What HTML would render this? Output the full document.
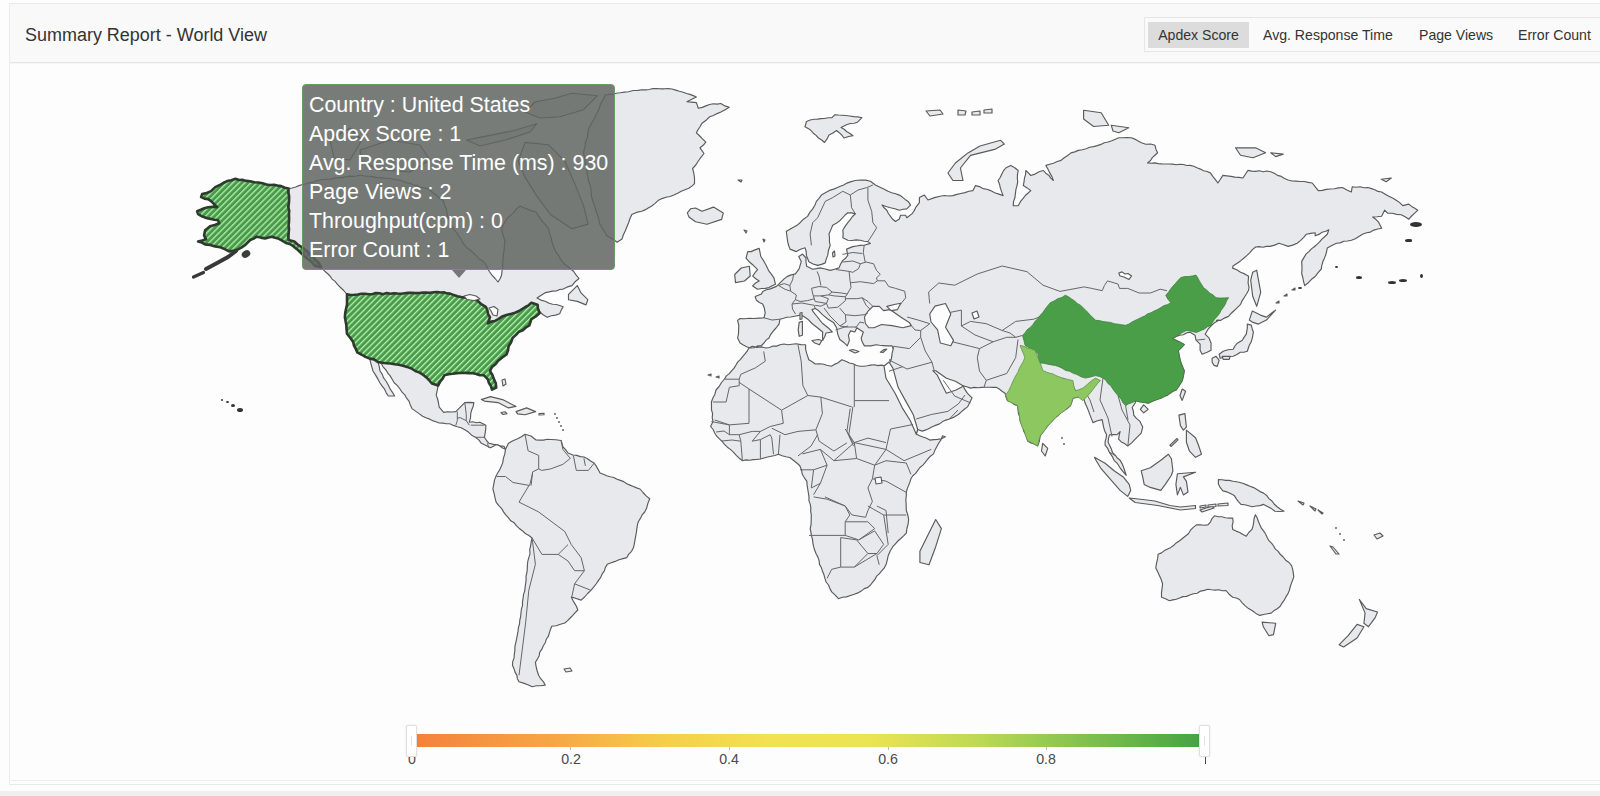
<!DOCTYPE html>
<html><head><meta charset="utf-8"><style>
html,body{margin:0;padding:0;width:1600px;height:796px;overflow:hidden;background:#fdfdfd;font-family:"Liberation Sans",sans-serif;}
#topline{position:absolute;left:9px;top:3px;width:1591px;height:1px;background:#e9e9e9;}
#panel{position:absolute;left:9px;top:4px;width:1591px;height:781px;border-left:1px solid #ececec;box-sizing:border-box;}
#header{position:absolute;left:10px;top:4px;width:1590px;height:58px;background:#f9f9f9;border-bottom:1px solid #e6e6e6;box-shadow:0 1px 1px rgba(0,0,0,0.03);}
#title{position:absolute;left:25px;top:24px;font-size:17.98px;color:#333;white-space:nowrap;line-height:22px;}
#tabs{position:absolute;left:1144px;top:17px;width:470px;height:35px;border:1px solid #e6e6e6;background:#fafafa;box-sizing:border-box;}
.tab{position:absolute;top:22px;height:26px;font-size:14.1px;color:#333;line-height:27px;white-space:nowrap;}
#t1{left:1148px;width:101px;background:#dcdcdc;text-align:center;}
#map{position:absolute;left:0;top:0;}
.ld{fill:#e8e9ed;stroke:#5a5a5a;stroke-width:1.15;stroke-linejoin:round;}
.wt{fill:#fdfdfd;stroke:#5a5a5a;stroke-width:1.15;stroke-linejoin:round;}
.bd{fill:none;stroke:#666;stroke-width:1.0;stroke-linejoin:round;}
.cn{fill:#4a9e48;stroke:#3f7f3f;stroke-width:0.8;}
.in{fill:#8cc75f;stroke:#5f8f4f;stroke-width:0.8;}
.us{fill:url(#hatch);stroke:#2f3a2f;stroke-width:2.6;stroke-linejoin:round;}
#tip{position:absolute;left:302px;top:84px;width:313px;height:186px;background:rgba(96,101,96,0.85);border:1.5px solid #6a9a68;border-radius:4px;box-sizing:border-box;}
#tiparrow{position:absolute;left:452px;top:270px;width:0;height:0;border-left:7px solid transparent;border-right:7px solid transparent;border-top:8px solid rgba(96,101,96,0.85);}
#tiptext{position:absolute;left:309px;top:91px;font-size:21.4px;line-height:28.9px;color:#fff;white-space:nowrap;}
#bar{position:absolute;left:416px;top:734px;width:783px;height:13px;background:linear-gradient(to right,#f5813c 0%,#f6a845 18%,#f5cf4a 32%,#f3e150 45%,#ebe452 58%,#bcd954 72%,#7ec04f 86%,#45a344 100%);}
.handle{position:absolute;top:724.5px;width:11px;height:32.5px;background:#fff;border:1px solid #e0e0e0;border-radius:2px;box-sizing:border-box;box-shadow:0 0 2px rgba(0,0,0,0.12);z-index:2;}
.handle:after{content:'';position:absolute;left:4px;top:10px;width:1px;height:10px;background:#e4e4e4;}
.lbl{position:absolute;top:750.5px;font-size:14.2px;color:#4a4a4a;width:40px;text-align:center;line-height:16px;}
.tick{position:absolute;top:747px;width:1px;height:3px;background:#bbb;}
#bline1{position:absolute;left:11px;top:780px;width:1589px;height:1px;background:#ececec;}
#bline2{position:absolute;left:10px;top:784px;width:1590px;height:1px;background:#e8e8e8;}
#bband{position:absolute;left:0;top:791px;width:1600px;height:5px;background:#efefef;}
</style></head><body>
<div id="topline"></div>
<div id="panel"></div>
<div id="header"></div>
<div id="title">Summary Report - World View</div>
<div id="tabs"></div>
<div class="tab" id="t1">Apdex Score</div>
<div class="tab" style="left:1263px">Avg. Response Time</div>
<div class="tab" style="left:1419px">Page Views</div>
<div class="tab" style="left:1518px">Error Count</div>
<svg id="map" width="1600" height="796" viewBox="0 0 1600 796">
<defs><pattern id="hatch" patternUnits="userSpaceOnUse" width="4.25" height="6" patternTransform="rotate(45)"><rect width="4.25" height="6" fill="#4a9a4c"/><rect x="0" y="0" width="1.3" height="6" fill="#b2f0aa"/></pattern></defs>
<polygon class="ld" points="288.6,188.6 292.2,188.0 295.7,187.0 299.0,185.6 302.5,184.5 306.0,183.8 309.5,182.8 313.1,182.2 316.5,180.7 320.0,180.0 323.6,179.5 327.3,179.2 331.0,179.1 334.5,178.2 338.2,177.5 341.9,177.6 345.5,176.9 349.1,176.1 352.8,176.4 356.4,176.0 360.0,175.0 363.6,175.8 367.2,176.3 370.9,176.2 374.5,177.1 378.1,177.7 381.8,177.9 385.5,178.2 389.1,178.2 392.7,179.0 396.3,179.7 400.0,180.0 403.2,181.5 406.5,182.7 410.0,183.3 413.2,184.8 416.7,185.3 419.9,187.0 423.3,187.8 426.8,188.4 430.0,190.0 433.2,192.9 436.8,195.3 439.8,198.4 443.4,200.8 444.4,204.7 446.3,208.4 446.9,212.4 447.7,216.4 449.5,220.1 450.4,224.1 452.6,226.9 454.1,230.2 456.8,232.7 458.5,235.8 460.8,238.6 462.2,241.9 464.4,244.8 466.7,247.5 469.4,249.8 472.3,251.8 474.8,254.3 477.4,256.8 479.7,259.5 483.0,261.1 485.4,263.8 487.3,267.7 489.3,271.5 492.0,275.1 495.1,278.5 498.0,282.0 500.1,278.7 501.6,275.0 502.0,271.1 502.8,267.3 502.7,263.4 503.1,259.6 503.3,255.7 503.7,252.2 504.3,248.7 504.4,245.1 505.0,241.6 503.9,237.5 502.5,233.5 501.6,229.3 503.1,225.6 504.8,222.1 506.9,218.7 509.6,216.2 512.3,213.7 514.7,211.1 517.1,208.2 520.0,206.0 523.9,207.8 527.9,209.4 531.8,210.9 536.0,212.0 538.1,215.4 540.4,218.7 542.8,221.9 545.6,224.8 548.0,228.0 549.2,231.4 549.9,234.9 551.4,238.2 551.9,241.8 553.0,245.3 554.4,248.6 556.2,252.4 558.7,255.7 560.6,259.4 563.2,262.7 566.6,265.7 570.2,268.5 573.7,271.5 576.2,275.1 579.0,278.5 575.1,281.7 572.0,285.6 567.4,286.9 563.2,289.1 559.6,289.5 556.2,291.0 552.6,291.1 549.1,291.9 545.6,292.6 541.2,295.2 537.0,298.0 540.9,300.1 545.2,301.2 549.1,303.2 552.6,304.3 556.3,304.5 559.7,305.5 563.2,306.7 561.2,310.1 559.7,313.7 555.6,315.1 551.3,315.8 547.3,317.3 543.4,315.0 540.0,312.0 538.4,308.5 537.6,304.7 538.4,308.9 539.7,313.0 535.8,316.5 531.4,319.2 529.3,325.5 525.8,327.5 522.2,329.2 519.0,331.7 515.8,334.8 512.7,337.9 510.5,342.0 508.6,346.2 508.1,350.5 506.5,354.5 502.3,357.5 498.2,360.7 495.0,363.7 492.0,366.9 490.0,371.0 491.9,375.2 494.0,379.4 495.2,383.5 496.2,387.6 492.0,389.7 490.5,386.3 489.8,382.6 487.9,379.4 483.7,375.2 480.0,375.2 476.4,374.7 472.9,373.1 469.2,373.1 465.1,373.4 460.9,373.5 456.8,373.1 452.7,374.1 448.5,374.2 444.4,375.2 441.9,378.4 440.6,382.4 438.1,385.6 437.2,390.4 436.2,395.1 437.6,399.0 438.5,403.0 439.2,407.1 443.7,412.4 447.7,411.8 451.8,412.0 455.8,411.6 460.3,407.1 464.8,402.6 469.4,402.4 473.9,402.6 473.2,406.2 471.8,409.7 470.8,413.2 470.5,417.8 469.3,422.2 472.8,421.8 476.4,422.7 479.9,422.2 485.9,425.2 485.7,429.3 485.1,433.3 484.4,437.3 486.5,440.5 489.0,443.3 493.4,444.4 498.0,444.8 501.5,447.4 505.5,449.3 504.0,446.3 500.2,445.9 496.5,444.8 490.4,447.8 486.0,445.4 481.4,443.3 478.8,439.9 475.4,437.3 471.6,435.2 468.4,432.1 464.8,429.7 461.2,427.8 457.3,426.7 453.4,425.4 449.7,423.7 446.2,423.7 442.7,423.1 439.2,423.0 435.9,421.7 432.4,420.6 429.2,418.9 425.9,417.7 422.6,416.2 419.1,413.6 415.5,411.1 412.0,408.6 410.3,404.9 409.0,401.1 406.6,398.2 404.8,394.8 402.0,392.2 400.0,389.0 397.4,385.6 394.2,382.7 392.0,379.0 390.2,375.9 387.8,373.1 386.0,370.0 383.1,366.8 381.0,363.0 378.0,362.0 379.2,366.4 380.0,371.0 382.2,374.2 383.6,377.9 386.0,381.0 388.4,385.3 390.5,389.7 392.7,392.7 394.6,396.0 388.4,396.0 386.2,392.8 384.6,389.2 382.2,386.2 380.0,383.0 377.8,378.9 375.5,374.9 373.0,371.0 371.8,366.9 370.7,362.8 369.7,358.6 365.6,356.4 361.2,355.0 357.3,352.4 355.6,349.1 354.4,345.5 353.2,342.0 349.9,338.1 347.0,333.8 346.6,329.6 345.8,325.5 345.8,321.3 344.9,317.2 345.5,313.1 345.9,308.9 346.4,304.7 347.0,300.6 347.0,294.4 343.7,290.5 340.0,287.0 337.4,284.3 335.1,281.4 332.1,279.1 330.0,276.0 327.5,273.5 324.8,271.2 322.2,268.8 320.0,266.0 317.0,264.0 314.0,262.0 311.0,258.5 308.0,255.0 304.4,251.5 300.8,248.0 297.7,244.6 294.3,241.6 288.6,240.0 289.0,236.3 288.6,232.7 288.4,229.0 288.6,225.3 288.9,221.6 289.0,218.0 288.9,214.3 288.3,210.6 289.1,207.0 288.7,203.3 288.1,199.6 288.8,195.9 289.1,192.3"/>
<polygon class="ld" points="605.0,95.0 603.9,98.6 601.7,101.6 600.2,105.1 599.2,108.7 597.5,112.0 595.6,115.7 593.8,119.5 591.7,123.1 589.7,126.8 588.1,130.7 587.8,134.7 587.1,138.6 585.4,142.3 585.1,146.2 584.0,150.1 583.5,154.0 584.8,157.8 585.1,161.8 585.6,165.7 586.9,169.5 586.9,173.6 588.1,177.4 588.5,181.4 590.2,185.1 591.0,189.0 591.2,193.0 591.5,197.0 592.8,200.8 594.1,204.6 595.4,208.5 596.4,212.4 598.0,216.2 598.9,220.1 599.8,224.1 602.2,228.0 604.5,231.9 606.8,235.8 610.4,237.7 613.8,239.8 617.1,242.2 622.0,239.0 623.4,234.8 625.3,230.8 626.9,226.7 628.6,222.7 630.0,218.5 631.8,214.5 636.5,212.4 641.6,211.2 645.0,209.9 648.2,208.0 651.4,206.3 654.8,203.6 658.0,200.6 661.9,198.6 666.0,197.3 670.0,196.5 673.9,195.0 677.6,193.3 681.2,191.3 685.0,189.8 688.8,188.3 691.8,186.1 694.5,183.6 694.5,178.0 693.8,173.2 692.6,168.5 695.8,165.0 698.3,161.0 701.1,157.2 704.0,153.5 700.0,147.8 703.2,145.3 705.8,142.2 702.0,138.4 699.3,135.5 696.4,132.8 698.1,129.5 700.2,126.5 702.0,123.3 706.1,120.3 709.6,116.7 713.5,115.5 717.1,113.6 720.9,112.0 725.1,109.7 729.3,107.3 724.9,105.9 720.9,103.5 717.2,104.1 713.3,103.8 709.6,104.5 705.9,105.9 702.2,107.4 698.3,108.3 696.4,102.6 691.7,102.1 687.0,101.7 690.7,99.8 696.4,97.0 693.2,95.6 689.9,94.4 686.5,93.5 683.2,92.2 679.4,91.2 675.7,90.1 671.9,89.0 668.1,88.6 664.3,88.8 660.6,88.8 656.8,88.6 653.0,88.5 649.3,89.5 645.6,89.9 641.7,89.7 638.0,90.4 633.2,90.5 628.5,91.7 624.4,92.1 620.4,92.8 616.3,93.2 612.6,94.2 608.8,94.4"/>
<polygon class="ld" points="687.3,212.9 690.6,208.8 695.5,208.0 702.0,211.2 713.5,207.1 723.3,212.9 721.6,219.4 707.0,224.3 695.5,221.8 689.0,217.0"/>
<polygon class="ld" points="568.5,294.4 577.3,285.6 580.8,292.6 587.8,299.7 586.0,304.9 577.3,301.4 568.5,299.7"/>
<polygon class="ld" points="481.4,399.6 490.4,396.6 502.5,399.6 516.0,406.4 508.5,407.9 498.0,402.6 484.4,401.1"/>
<polygon class="ld" points="516.0,411.6 526.6,407.9 535.6,411.6 525.0,414.7 517.6,413.9"/>
<polygon class="ld" points="501.0,412.5 505.0,411.8 507.0,413.6 503.0,414.5"/>
<polygon class="ld" points="539.0,413.5 544.0,413.2 544.0,414.8 539.0,415.0"/>
<polygon class="ld" points="525.1,142.4 548.4,144.7 564.8,161.1 574.1,182.1 583.5,205.4 588.1,224.1 571.8,228.8 550.8,214.8 536.8,196.1 525.1,177.4 518.1,161.1"/>
<polygon class="ld" points="360.0,150.0 390.0,140.0 420.0,145.0 430.0,160.0 410.0,172.0 380.0,170.0 362.0,162.0"/>
<polygon class="ld" points="555.4,98.0 571.8,93.3 597.5,95.7 583.5,109.7 560.1,116.7 540.0,118.0 525.0,112.0 535.0,102.0"/>
<polygon class="ld" points="330.0,140.0 350.0,128.0 362.0,140.0 350.0,160.0 334.0,158.0"/>
<polygon class="ld" points="466.7,140.0 490.0,135.4 513.4,130.7 536.8,123.7 530.0,132.0 505.0,140.0 480.0,146.0"/>
<polygon class="ld" points="505.5,449.3 508.5,443.3 512.9,440.8 517.6,438.8 521.4,436.7 525.0,434.3 531.0,436.0 536.0,440.0 539.8,440.1 543.5,440.1 547.2,439.3 551.0,439.5 556.0,439.7 561.0,440.5 563.0,447.0 565.8,449.8 568.0,453.0 573.0,455.0 576.7,455.4 580.3,456.6 584.0,457.0 587.5,458.7 590.6,461.0 594.0,463.0 596.3,466.2 598.2,469.6 600.0,473.0 603.4,474.2 606.7,475.8 610.2,476.8 613.8,477.5 617.0,479.2 620.4,480.4 623.7,481.6 626.7,483.8 630.0,485.1 633.3,486.5 636.6,487.9 640.0,489.0 643.0,492.5 646.1,495.9 649.7,498.8 647.8,503.6 646.5,508.6 644.7,512.0 642.1,514.9 640.4,518.4 638.3,521.7 637.3,525.4 636.8,529.1 636.3,532.9 635.6,536.6 634.9,540.4 634.3,544.1 633.4,547.8 631.6,551.3 628.8,554.1 626.9,557.6 622.9,558.6 618.9,559.7 615.1,561.4 611.2,562.8 607.3,564.2 605.4,567.4 604.4,570.9 602.2,573.9 600.7,577.3 598.3,580.6 596.1,584.0 593.6,587.2 590.9,590.3 587.6,593.5 584.6,597.0 581.1,600.1 576.2,598.5 571.3,596.9 572.8,600.2 574.7,603.4 576.5,606.5 577.8,610.0 575.2,612.6 572.8,615.4 570.2,618.0 567.6,620.6 564.8,623.0 560.5,624.2 556.2,625.7 551.7,626.3 549.9,631.1 548.4,636.1 546.3,639.2 545.3,642.7 543.3,645.8 541.9,649.2 539.8,652.2 539.1,655.9 537.4,659.1 535.4,662.2 536.1,666.6 537.2,671.0 538.6,675.3 540.7,678.7 543.3,681.6 545.2,685.1 540.8,685.7 536.4,685.8 532.1,686.7 527.9,684.7 523.5,683.1 519.0,681.8 517.4,678.7 516.8,675.1 515.0,672.1 514.0,668.7 512.5,665.5 512.7,661.6 514.1,657.9 514.3,654.1 514.9,650.3 514.9,646.4 515.8,642.6 516.6,638.9 517.3,635.2 518.0,631.4 518.4,627.7 519.5,624.0 519.8,620.2 520.7,616.5 521.0,612.8 521.4,609.2 522.5,605.6 522.5,601.9 523.1,598.3 523.5,594.6 524.7,591.1 525.1,587.4 525.6,583.8 526.1,580.1 526.0,576.3 526.9,572.6 527.3,568.8 527.4,565.0 527.8,561.3 528.8,557.6 530.0,553.8 529.7,549.7 530.6,545.8 531.2,541.9 532.1,538.0 528.9,535.5 525.3,533.5 522.3,530.7 519.0,528.2 516.3,525.7 514.1,522.7 510.8,520.8 508.5,517.9 506.0,515.2 503.5,511.9 501.5,508.3 498.6,505.4 496.1,502.1 495.0,497.7 494.1,493.3 492.9,489.0 493.7,484.6 494.5,480.1 496.1,475.9 497.8,472.7 499.8,469.6 501.3,466.3 502.7,462.9 503.4,458.3 504.8,453.9"/>
<polygon class="ld" points="564.0,669.0 570.0,668.0 572.0,671.0 566.0,672.0"/>
<polygon class="ld" points="752.3,346.3 756.8,347.4 761.5,346.9 766.0,348.0 769.6,347.5 772.9,346.0 776.6,346.1 780.0,344.8 784.0,344.0 788.0,344.7 792.0,344.2 796.0,343.7 800.8,344.6 805.6,344.8 805.6,349.2 806.7,353.4 808.8,359.8 812.2,361.7 815.2,364.0 819.0,363.8 822.7,364.0 826.9,365.3 831.3,366.2 834.4,364.4 837.7,363.0 841.9,359.8 845.8,361.2 849.4,363.0 853.1,363.8 856.4,365.5 860.1,366.2 863.7,366.2 867.3,365.8 870.8,365.1 874.4,364.8 877.9,365.6 881.5,365.1 886.8,366.2 889.0,364.0 891.1,359.8 891.8,356.2 892.2,352.6 893.2,349.1 892.1,345.9 886.8,345.9 883.2,345.6 879.7,345.3 876.1,344.8 870.8,345.9 864.4,345.9 862.4,342.3 861.2,338.4 863.3,332.0 860.1,329.9 856.9,327.7 854.8,332.0 850.5,330.9 848.4,335.2 849.4,340.5 847.3,345.9 844.1,342.7 839.8,339.5 837.7,334.1 836.6,327.7 833.4,322.4 828.1,319.2 822.7,314.9 818.5,310.6 815.2,308.5 812.0,309.6 813.1,311.7 817.4,317.0 820.0,320.3 822.7,323.5 828.1,327.7 832.3,332.0 829.0,332.5 826.0,333.0 824.9,336.3 822.7,340.5 822.5,336.2 822.7,332.0 817.4,327.7 812.0,323.5 807.8,319.2 804.6,317.0 801.4,314.9 796.0,316.0 790.7,317.0 787.0,317.3 783.5,318.3 780.0,319.2 779.0,324.1 776.0,328.0 772.8,331.7 770.6,334.6 769.0,338.0 766.1,340.1 764.0,343.0 761.5,345.5 757.6,345.9 754.1,347.7 750.2,348.0 746.7,346.7 743.3,345.0 740.1,343.0 737.6,338.0 738.5,333.8 738.6,329.6 738.8,325.4 737.6,320.4 740.1,318.5 744.7,318.7 749.3,318.3 753.9,318.5 758.9,318.1 764.0,317.8 765.2,312.8 764.4,308.3 762.7,304.0 759.3,302.5 756.4,300.3 755.2,296.5 761.5,294.0 762.7,291.5 766.4,289.8 770.3,288.9 776.5,286.4 780.3,282.7 784.1,278.9 787.0,276.6 790.4,275.1 795.4,273.9 799.1,268.8 800.2,265.2 801.3,261.7 798.8,256.6 802.6,254.1 806.0,258.0 806.0,262.2 806.7,266.3 812.7,269.2 816.5,268.6 820.2,267.9 825.2,269.0 830.2,270.4 834.6,269.2 839.0,267.9 840.6,264.0 842.8,260.4 845.6,258.2 847.8,255.4 846.6,249.1 852.8,246.6 856.5,246.0 860.3,245.4 864.1,245.3 870.4,243.4 867.9,241.6 864.1,241.2 860.4,240.3 856.2,239.9 852.0,240.5 847.8,240.3 842.8,237.8 843.2,234.1 842.8,230.3 845.1,226.4 847.8,222.7 850.3,219.7 852.5,216.5 855.4,213.9 851.7,212.9 847.8,212.7 845.1,215.0 842.8,217.7 840.3,220.2 836.7,223.1 832.7,225.2 830.9,229.6 829.0,234.0 829.5,237.8 829.4,241.6 830.2,245.3 828.5,250.2 827.7,255.4 826.2,259.1 825.2,262.9 821.5,264.4 817.7,265.4 813.1,264.0 808.9,261.7 806.4,255.4 806.2,251.5 805.1,247.8 800.5,249.3 796.3,251.6 790.0,249.1 788.4,244.8 787.5,240.3 786.9,235.9 786.3,231.5 789.4,229.6 792.6,227.7 796.6,225.6 800.1,222.7 803.5,219.2 807.6,216.4 809.8,212.4 812.7,208.9 814.9,205.3 816.4,201.4 819.0,198.3 821.4,195.1 825.8,192.6 830.2,190.1 833.7,189.1 837.0,187.7 840.3,186.3 843.7,185.0 846.9,183.1 850.3,181.9 855.3,180.5 860.4,180.0 865.5,180.1 870.4,181.3 875.4,185.0 880.5,187.6 884.3,189.3 888.0,191.3 891.7,192.7 895.6,193.7 899.3,195.1 902.3,197.1 905.1,199.4 908.1,201.4 910.6,205.1 906.8,208.9 903.0,209.3 899.3,210.2 894.9,208.8 890.5,207.7 886.2,206.5 882.0,205.0 884.1,207.8 886.8,210.2 888.4,213.5 890.5,216.4 892.7,219.3 895.5,221.5 899.3,219.0 900.6,215.2 905.6,215.2 906.8,217.7 911.9,213.9 914.1,211.0 915.6,207.7 919.4,202.6 919.4,197.6 924.4,195.1 928.0,200.0 934.5,197.6 940.0,196.3 944.3,195.5 948.6,196.0 952.9,195.6 956.9,194.4 960.9,193.5 965.0,192.6 968.9,191.2 973.0,190.6 975.5,185.6 979.4,186.6 982.9,188.6 986.9,189.2 990.6,190.6 994.6,192.7 998.9,194.1 1003.1,195.6 1001.7,191.9 1000.4,188.1 999.5,184.2 998.1,180.5 1000.2,177.5 1001.7,174.2 1003.4,170.9 1005.7,168.0 1010.7,165.4 1014.7,167.7 1018.2,170.5 1017.5,174.2 1017.3,178.0 1017.7,181.9 1017.0,185.6 1015.9,189.6 1015.4,193.6 1014.9,197.7 1013.5,201.6 1013.2,205.7 1018.2,205.7 1020.4,201.7 1023.3,198.1 1025.5,195.3 1028.2,193.0 1030.8,190.6 1027.2,187.9 1023.3,185.6 1024.0,181.8 1024.5,178.0 1025.6,174.3 1025.8,170.5 1028.4,172.9 1030.8,175.5 1035.1,174.1 1039.0,171.7 1043.4,170.5 1045.7,173.2 1048.7,175.2 1050.8,178.1 1053.4,180.5 1051.9,176.6 1049.8,172.9 1047.9,169.1 1045.9,165.4 1049.7,164.2 1053.5,163.2 1057.2,161.5 1061.0,160.4 1064.2,157.7 1067.7,155.5 1071.0,152.9 1074.8,151.9 1078.4,150.4 1082.3,149.8 1086.1,148.7 1089.7,147.3 1093.6,146.6 1097.3,145.6 1100.9,144.4 1104.3,142.7 1108.1,142.0 1111.8,140.8 1115.3,139.2 1118.8,137.8 1123.0,137.7 1127.1,137.5 1131.3,137.8 1134.8,139.1 1138.1,140.9 1141.4,142.8 1145.8,144.2 1150.6,144.0 1155.0,145.3 1155.9,149.2 1157.6,152.8 1154.9,155.2 1152.3,157.6 1150.3,160.7 1147.5,162.9 1151.1,163.2 1154.7,162.9 1158.3,163.6 1161.9,163.9 1165.5,164.0 1169.1,164.0 1172.7,164.1 1176.2,164.8 1179.8,164.3 1183.3,164.5 1186.8,165.5 1190.3,165.4 1193.8,166.2 1197.0,167.8 1200.4,169.1 1203.6,170.8 1207.1,171.5 1210.4,172.9 1212.8,176.3 1215.4,179.6 1217.9,183.0 1220.4,179.2 1222.9,175.4 1226.9,175.9 1230.9,176.4 1234.9,177.1 1239.0,177.4 1243.0,178.0 1245.4,174.2 1248.0,170.4 1251.8,171.1 1255.5,171.4 1259.4,170.8 1263.1,171.8 1266.9,171.0 1270.7,171.7 1274.3,173.2 1277.5,175.4 1281.3,176.4 1284.5,178.5 1288.1,180.0 1292.0,181.0 1296.1,181.1 1300.2,181.5 1304.2,181.5 1308.2,182.4 1312.2,183.0 1315.3,186.8 1318.3,190.6 1322.3,190.4 1326.3,189.4 1330.3,189.0 1334.4,188.8 1338.4,187.9 1342.4,187.5 1346.8,189.9 1351.4,192.0 1352.2,186.8 1356.1,187.3 1360.1,186.8 1364.0,187.8 1368.0,187.5 1371.4,188.6 1374.8,189.7 1378.0,191.4 1381.6,192.0 1385.2,194.2 1388.8,196.3 1392.6,198.1 1396.2,200.2 1399.7,202.6 1402.7,205.6 1408.8,204.1 1411.6,206.4 1414.8,208.2 1417.8,210.2 1414.7,213.1 1411.6,216.0 1408.8,219.2 1405.1,216.8 1401.2,214.7 1396.6,214.4 1392.2,213.3 1387.6,213.2 1384.6,210.2 1381.6,216.2 1377.1,216.7 1372.6,217.0 1375.8,219.3 1378.6,222.2 1381.6,228.3 1377.7,229.0 1373.9,230.1 1370.4,232.1 1366.5,232.8 1362.5,234.3 1358.9,236.4 1355.3,238.7 1351.4,240.3 1347.6,241.0 1343.8,241.3 1340.2,242.9 1336.4,243.3 1331.8,245.4 1327.3,247.9 1326.6,251.5 1325.7,255.0 1324.3,258.4 1322.8,261.8 1321.8,265.3 1321.3,269.0 1318.1,272.6 1315.2,276.5 1311.5,279.3 1308.3,282.7 1304.7,285.6 1303.6,281.6 1302.8,277.5 1301.7,273.5 1302.0,269.5 1301.9,265.4 1301.7,261.4 1303.9,257.6 1306.2,253.9 1308.9,251.6 1311.4,248.9 1314.3,246.8 1317.0,244.4 1319.6,241.9 1321.9,239.1 1324.6,236.7 1327.3,234.3 1328.8,229.8 1325.8,231.3 1322.1,232.3 1318.8,234.4 1315.2,235.8 1315.2,232.8 1310.7,233.4 1306.2,234.3 1303.5,237.6 1300.4,240.6 1297.1,243.3 1292.7,245.1 1288.1,246.4 1283.6,244.7 1279.0,243.3 1274.6,245.1 1270.0,246.4 1266.4,246.4 1262.8,247.2 1259.2,246.6 1255.6,247.0 1252.4,249.6 1249.7,252.8 1246.7,255.6 1243.7,258.3 1240.5,260.9 1236.8,263.4 1233.0,265.9 1232.6,268.1 1236.8,269.8 1240.6,272.2 1244.7,273.9 1248.6,276.2 1248.3,279.7 1248.1,283.2 1249.0,286.8 1248.6,290.3 1246.6,293.8 1244.4,297.2 1242.2,300.6 1240.6,304.3 1237.5,307.3 1234.5,310.3 1231.3,313.2 1228.5,316.4 1224.4,318.1 1220.5,320.4 1216.5,320.4 1219.2,320.1 1214.1,323.1 1210.9,326.0 1208.1,329.2 1205.1,334.2 1209.1,338.2 1211.1,343.2 1211.0,346.8 1211.1,350.3 1207.1,352.3 1202.1,354.3 1200.1,350.3 1200.1,344.2 1196.0,340.2 1195.0,335.2 1190.0,332.2 1186.5,332.9 1183.3,334.8 1179.6,335.1 1176.3,336.5 1172.3,338.5 1176.4,340.2 1180.4,342.4 1184.3,344.5 1181.4,347.6 1178.3,350.6 1179.3,355.6 1180.3,360.6 1181.5,364.0 1182.9,367.4 1184.3,370.7 1183.5,375.7 1182.3,380.7 1180.4,383.9 1178.2,386.8 1176.3,390.0 1173.0,391.2 1170.2,393.4 1167.3,395.4 1163.7,396.2 1160.8,398.2 1156.4,399.5 1152.3,401.2 1148.2,403.2 1144.1,402.2 1139.8,401.6 1135.7,400.7 1135.2,403.0 1132.2,407.5 1133.4,411.2 1133.7,415.1 1136.4,418.4 1139.7,421.1 1142.7,427.1 1141.2,433.2 1138.2,436.2 1135.2,439.2 1131.7,442.9 1127.7,446.0 1124.7,443.6 1121.3,441.9 1118.6,439.2 1119.2,435.4 1120.1,431.6 1117.1,434.7 1113.3,434.6 1109.6,434.7 1108.5,438.4 1108.1,442.2 1109.7,445.6 1111.4,449.1 1112.6,452.7 1115.2,455.1 1117.3,458.0 1120.1,460.3 1122.0,463.6 1123.5,467.1 1124.7,470.8 1126.2,475.3 1123.0,471.7 1120.1,467.8 1117.5,463.7 1114.1,460.3 1112.2,456.3 1109.6,452.7 1107.8,448.7 1105.1,445.2 1105.1,441.6 1106.1,438.2 1106.6,434.7 1104.7,431.0 1103.6,427.1 1102.9,423.3 1102.1,419.6 1097.4,420.8 1093.0,422.6 1091.5,418.9 1090.0,415.1 1088.5,410.9 1086.8,406.7 1084.9,402.6 1083.8,398.1 1082.6,393.6 1078.0,397.0 1072.9,398.2 1071.8,402.0 1070.4,405.7 1067.4,408.4 1063.9,410.6 1060.6,412.9 1057.8,415.8 1054.9,417.9 1052.4,420.5 1050.0,423.0 1047.7,425.8 1045.1,429.1 1042.7,432.5 1040.2,435.9 1039.4,441.0 1037.7,445.9 1034.5,443.9 1030.8,442.9 1027.6,440.9 1026.8,437.4 1025.5,434.1 1023.6,430.9 1023.0,427.3 1021.6,424.1 1020.1,420.8 1019.8,417.0 1018.4,413.3 1018.0,409.5 1017.6,405.7 1014.1,404.4 1011.1,401.9 1007.5,400.7 1006.0,397.0 1005.0,393.2 1002.0,391.3 999.2,389.0 996.1,387.3 992.6,387.4 989.1,387.2 985.6,387.3 981.8,387.4 978.1,387.8 974.3,387.4 970.5,388.1 966.8,386.8 963.0,385.8 965.0,389.7 967.5,393.3 972.0,397.9 970.5,400.9 967.5,406.9 964.3,409.2 961.3,411.9 958.4,414.5 954.1,417.1 949.4,419.0 945.9,420.1 942.6,421.6 939.6,423.9 936.2,425.1 932.8,426.5 929.4,428.3 925.9,429.9 922.2,431.1 917.7,429.5 916.2,434.1 919.6,435.7 923.0,437.0 926.6,438.2 929.8,440.1 933.7,439.6 937.6,439.4 941.4,438.8 945.4,436.8 942.5,435.8 941.1,439.6 938.8,443.0 936.9,446.6 935.0,450.1 933.5,453.9 930.4,456.2 927.8,459.0 925.4,462.2 922.9,465.1 919.9,467.5 917.8,470.4 915.7,473.4 912.8,475.7 910.9,478.8 909.9,482.2 908.5,485.6 907.2,488.9 906.3,492.4 906.3,496.0 905.8,499.6 906.1,503.3 906.2,506.9 906.3,510.5 907.8,514.9 908.6,519.5 908.1,524.1 906.9,528.5 906.3,533.1 903.6,535.9 900.8,538.5 897.9,541.0 895.4,543.8 892.8,546.7 890.2,551.0 888.2,555.7 887.2,560.3 886.0,564.8 884.1,568.1 881.7,570.9 879.2,573.8 876.6,576.2 874.9,579.4 872.7,582.2 870.5,585.0 867.9,587.4 864.3,588.6 861.2,591.1 857.9,592.9 854.3,594.2 850.4,595.5 846.5,596.9 842.4,597.3 838.5,598.7 835.2,595.2 831.7,591.9 829.9,588.6 828.5,585.0 826.1,582.0 824.9,578.4 824.0,574.8 822.5,571.3 821.4,567.7 819.5,564.4 819.1,560.6 817.9,557.1 816.1,553.8 814.7,550.3 813.6,546.7 812.9,543.1 812.5,539.4 811.5,535.8 810.9,532.2 810.2,528.6 811.1,524.1 811.2,519.6 811.3,515.0 810.7,511.4 810.8,507.7 810.2,504.1 808.9,500.6 809.0,496.9 808.4,493.0 807.7,489.0 807.1,485.1 806.8,481.1 804.4,477.8 802.3,474.3 801.5,470.1 800.0,466.0 798.0,464.0 794.0,460.7 789.8,457.5 785.9,456.7 782.1,455.8 778.4,454.2 774.9,455.5 771.2,456.3 767.6,457.0 764.0,458.0 760.4,459.0 756.8,459.4 753.2,459.6 749.6,460.2 746.0,459.9 742.4,460.7 739.2,458.2 736.3,455.4 733.6,452.4 730.7,449.6 727.4,447.2 724.5,444.4 722.2,441.5 719.4,438.9 716.7,436.2 714.7,433.0 713.1,429.5 710.6,426.5 713.0,421.6 712.2,417.7 712.6,413.7 711.5,409.9 711.5,405.9 711.4,402.0 712.9,398.0 714.9,394.2 716.0,390.0 719.1,386.5 721.5,382.5 724.5,379.0 726.4,375.9 729.3,373.6 731.6,370.8 734.1,368.1 736.0,365.0 737.8,361.9 740.5,359.4 742.6,356.6 745.0,353.9 747.1,351.1 749.0,348.0"/>
<polygon class="ld" points="751.0,251.6 755.0,249.9 759.2,248.4 760.0,252.4 760.8,256.5 764.0,261.4 765.7,264.6 767.4,267.9 769.0,271.2 771.5,274.4 773.9,277.8 775.5,284.3 772.2,285.8 769.0,287.6 765.2,288.4 761.4,288.5 757.6,289.2 752.7,285.9 755.6,283.0 759.2,281.0 755.8,278.7 752.7,276.1 755.0,272.7 757.6,269.6 752.7,264.7 749.1,261.7 746.0,258.2 747.8,251.6"/>
<polygon class="ld" points="734.7,274.5 741.2,268.0 749.4,266.3 750.2,276.0 744.5,281.0 735.5,282.6"/>
<polygon class="ld" points="806.5,121.5 810.1,120.0 814.0,119.2 817.5,119.1 821.0,118.6 824.5,118.5 828.2,117.8 832.0,117.7 835.0,114.7 838.5,115.0 842.0,115.2 845.5,115.5 849.6,116.0 853.8,116.6 857.9,116.9 862.0,117.7 857.5,122.2 854.1,123.2 850.5,123.5 847.0,124.5 841.0,127.5 844.1,129.3 846.9,131.7 850.0,133.5 853.0,135.7 848.4,136.5 844.0,138.0 841.8,135.2 839.3,132.7 836.5,130.5 832.9,133.0 829.0,135.0 827.0,138.9 824.5,142.5 821.7,140.0 818.5,138.0 816.1,135.4 813.3,133.2 811.0,130.5 808.1,128.4 805.0,126.7"/>
<polygon class="ld" points="947.9,173.0 955.4,163.0 968.0,152.9 980.0,146.0 1000.6,140.3 1004.4,144.1 995.6,149.1 970.5,155.4 960.4,168.0 963.0,180.5 952.9,180.5"/>
<polygon class="ld" points="1083.6,110.2 1101.2,112.7 1108.7,125.2 1093.6,126.5 1083.6,119.0"/>
<polygon class="ld" points="1111.2,125.2 1128.8,127.7 1118.8,132.8 1113.0,131.0"/>
<polygon class="ld" points="1235.5,147.8 1255.6,147.8 1265.6,152.8 1253.0,157.8 1240.5,155.3"/>
<polygon class="ld" points="1270.7,152.8 1283.2,154.1 1275.7,156.6"/>
<polygon class="ld" points="1381.2,179.2 1391.3,178.0 1386.2,181.7"/>
<polygon class="ld" points="926.0,111.0 940.0,110.0 943.0,114.0 930.0,116.0"/>
<polygon class="ld" points="958.0,110.0 966.0,111.0 965.0,115.0 958.0,115.0"/>
<polygon class="ld" points="972.0,112.0 980.0,111.0 980.0,115.0 972.0,115.0"/>
<polygon class="ld" points="984.0,110.0 992.0,109.0 992.0,113.0 984.0,113.0"/>
<polygon class="ld" points="1252.7,272.2 1256.7,270.2 1260.7,292.3 1256.7,306.3 1252.7,296.3 1250.7,280.2"/>
<polygon class="ld" points="1252.3,311.1 1260.4,315.1 1266.4,317.1 1275.5,310.1 1266.4,320.1 1258.4,324.1 1252.3,322.1 1249.3,320.1"/>
<polygon class="ld" points="1219.2,354.3 1223.2,351.3 1228.1,349.8 1233.2,349.3 1234.9,346.0 1237.3,343.2 1242.3,340.2 1244.2,337.1 1246.3,334.2 1247.3,328.2 1247.3,324.1 1251.3,325.1 1252.2,328.7 1253.4,332.2 1252.3,338.2 1251.2,341.9 1249.3,345.3 1247.3,351.3 1243.9,352.2 1240.3,352.3 1236.9,354.6 1233.2,356.3 1228.7,356.5 1224.2,357.3 1220.2,358.3"/>
<polygon class="ld" points="1212.1,358.3 1216.1,356.3 1219.2,360.3 1217.2,366.4 1214.1,365.4 1212.1,362.3"/>
<polygon class="ld" points="1182.2,389.0 1185.6,391.3 1182.2,400.4 1180.0,395.8"/>
<polygon class="ld" points="1143.7,404.9 1148.2,409.4 1143.7,412.8 1140.3,409.4"/>
<polygon class="ld" points="1042.7,443.4 1047.7,448.4 1045.2,456.0 1041.5,451.0"/>
<polygon class="ld" points="1094.5,457.3 1105.1,463.3 1114.1,470.8 1123.2,476.9 1129.2,484.4 1130.7,490.4 1127.7,496.4 1120.1,490.4 1109.6,478.4 1100.5,467.8 1096.0,460.3"/>
<polygon class="ld" points="1129.2,498.0 1142.7,499.5 1154.8,501.0 1169.9,505.5 1180.4,507.0 1195.5,505.5 1195.5,508.5 1180.4,510.0 1157.8,505.5 1135.2,502.5"/>
<polygon class="ld" points="1141.2,470.8 1150.3,467.8 1160.8,460.3 1168.4,454.3 1171.4,458.8 1172.9,470.8 1171.4,475.3 1165.3,484.4 1160.8,490.4 1150.3,487.4 1144.2,484.4 1142.7,476.9"/>
<polygon class="ld" points="1177.4,473.8 1195.5,472.3 1183.4,476.9 1186.4,481.4 1188.0,491.9 1183.4,494.9 1180.4,487.4 1177.4,494.9 1175.9,484.4"/>
<polygon class="ld" points="1178.9,415.1 1184.9,413.6 1186.4,427.1 1183.4,430.1 1180.4,425.6"/>
<polygon class="ld" points="1186.4,430.1 1195.5,437.7 1198.5,445.2 1201.5,454.3 1195.5,457.3 1189.5,451.2 1186.4,442.2"/>
<polygon class="ld" points="1169.9,445.2 1177.0,438.5 1178.0,439.8 1171.0,446.5"/>
<polygon class="ld" points="1222.2,356.3 1230.2,356.3 1229.2,359.3 1223.2,359.3"/>
<polygon class="ld" points="1200.0,510.0 1212.0,506.0 1214.0,508.0 1202.0,512.0"/>
<polygon class="ld" points="1218.4,479.5 1222.1,479.7 1225.6,480.4 1229.3,480.4 1232.9,481.2 1236.5,481.8 1240.0,482.5 1243.4,483.5 1246.7,484.9 1250.0,486.3 1253.6,487.6 1256.9,489.5 1260.1,491.6 1263.6,493.1 1266.7,495.5 1268.9,498.6 1272.0,501.0 1274.3,504.2 1277.2,506.7 1280.5,509.2 1284.0,511.2 1279.5,511.5 1275.0,511.2 1271.4,508.6 1267.5,506.5 1263.6,504.4 1259.9,505.6 1256.1,506.0 1252.3,506.7 1248.6,505.7 1244.9,504.7 1241.0,504.4 1238.4,501.6 1236.2,498.6 1234.2,495.4 1230.5,493.6 1226.9,491.9 1222.9,490.9 1220.3,487.7 1218.4,484.1"/>
<polygon class="ld" points="1158.1,554.3 1161.5,552.9 1164.4,550.6 1167.6,548.9 1170.9,547.4 1173.9,545.2 1176.5,542.7 1179.6,540.7 1182.4,538.5 1185.2,536.2 1188.4,533.7 1190.5,530.2 1193.3,527.4 1196.5,524.9 1200.3,524.7 1204.1,525.3 1207.9,524.9 1210.4,522.1 1212.0,518.6 1214.6,515.8 1218.2,516.7 1221.8,516.8 1225.4,517.7 1229.0,518.1 1232.7,518.1 1233.1,521.9 1232.2,525.6 1232.7,529.4 1236.1,531.1 1239.7,532.5 1242.9,534.5 1246.3,536.2 1248.8,532.5 1252.0,529.4 1253.1,525.8 1253.7,522.1 1254.1,518.3 1255.4,514.7 1257.2,518.0 1258.4,521.5 1259.9,524.9 1261.4,528.2 1263.7,531.1 1265.7,534.2 1267.2,537.5 1268.9,540.7 1271.5,543.1 1273.6,546.0 1275.4,549.1 1278.2,551.4 1280.2,554.3 1283.2,557.0 1285.7,560.2 1289.0,562.5 1291.6,565.6 1292.7,569.3 1293.3,573.1 1293.8,576.9 1292.6,580.3 1291.3,583.6 1290.2,587.0 1289.3,590.5 1287.9,593.9 1285.9,596.9 1284.2,600.2 1282.0,603.1 1280.2,606.3 1277.3,608.7 1274.0,610.6 1271.2,613.1 1267.4,613.8 1263.6,614.5 1259.9,615.4 1255.9,613.4 1252.4,610.8 1248.6,608.6 1245.2,605.9 1242.2,602.8 1239.5,599.5 1236.2,598.0 1232.7,597.3 1229.1,594.2 1226.0,590.5 1222.3,590.8 1218.8,589.8 1215.1,590.1 1211.5,589.8 1207.9,589.3 1204.3,590.4 1200.5,591.1 1197.2,593.2 1193.4,593.7 1189.8,595.0 1186.5,596.4 1182.9,596.6 1179.6,598.0 1176.3,599.2 1172.8,599.9 1169.4,600.7 1165.5,598.8 1161.5,597.3 1161.5,592.7 1162.1,588.2 1162.6,583.7 1161.2,579.6 1159.5,575.7 1157.7,571.8 1155.8,567.9 1156.5,563.4 1157.6,558.9"/>
<polygon class="ld" points="1262.1,622.1 1275.7,623.3 1273.5,634.6 1268.9,635.7 1263.3,626.7"/>
<polygon class="ld" points="1359.4,599.5 1366.2,608.6 1377.5,612.0 1375.2,617.6 1368.5,626.7 1363.9,623.3 1365.1,613.1"/>
<polygon class="ld" points="1357.1,624.4 1363.9,626.7 1357.1,638.0 1343.6,647.0 1339.0,644.8 1348.1,635.7"/>
<polygon class="ld" points="935.7,519.5 941.4,528.6 935.7,546.7 929.0,564.8 919.9,562.5 919.9,551.2 926.7,537.6"/>
<polygon class="ld" points="812.0,340.5 818.5,339.5 821.7,340.5 819.5,344.8 814.2,342.7"/>
<polygon class="ld" points="799.2,322.4 802.4,321.3 802.4,335.2 799.2,336.3 798.2,329.9"/>
<polygon class="ld" points="800.0,313.0 802.0,312.5 802.0,319.0 800.0,319.5"/>
<polygon class="ld" points="849.4,350.2 853.0,349.5 859.0,351.5 855.0,353.0"/>
<polygon class="ld" points="880.4,352.3 884.0,349.5 886.8,349.1 883.0,352.5"/>
<polygon class="ld" points="832.5,253.0 834.5,251.0 835.0,256.0 833.0,257.0"/>
<polygon class="wt" points="889.0,362.0 893.0,368.4 898.1,387.3 905.6,400.9 913.2,414.5 917.7,429.5 916.2,434.1 910.2,420.5 902.6,408.4 895.1,393.3 886.0,378.3 884.0,366.0"/>
<polygon class="wt" points="932.8,370.7 935.8,370.7 946.4,378.3 955.4,381.3 963.0,385.8 961.4,387.3 955.4,390.3 946.4,393.3 943.3,387.3 937.3,375.2"/>
<polygon class="wt" points="865.4,323.5 864.4,317.0 867.6,311.7 872.9,306.4 879.3,306.4 883.6,310.6 890.0,309.6 893.2,311.7 900.7,317.0 909.2,322.4 911.4,325.6 902.8,327.7 892.1,325.6 881.5,324.5 874.0,327.7 868.7,327.7"/>
<polygon class="wt" points="886.8,306.4 895.4,304.2 900.7,303.2 897.5,309.6 891.1,310.6"/>
<polygon class="wt" points="929.7,314.0 935.0,306.1 945.5,303.5 950.8,314.0 945.5,327.2 953.5,340.4 950.8,345.7 940.3,343.0 937.6,329.8 931.0,322.0"/>
<polyline class="bd" points="457.3,411.6 457.3,420.7 455.8,425.2"/>
<polyline class="bd" points="464.8,402.6 466.3,414.7"/>
<polyline class="bd" points="457.3,418.0 460.3,417.7 466.3,420.7 469.3,425.2"/>
<polyline class="bd" points="466.3,414.7 466.3,420.7"/>
<polyline class="bd" points="470.8,425.2 478.4,425.2 484.4,425.2"/>
<polyline class="bd" points="475.4,437.3 484.4,437.3"/>
<polyline class="bd" points="487.4,443.3 488.9,447.8"/>
<polyline class="bd" points="525.0,434.3 528.1,450.8 538.7,455.4 538.7,468.9 532.6,471.9 531.1,485.5"/>
<polyline class="bd" points="561.3,440.3 562.8,449.3 570.3,458.4 562.8,464.4 550.7,468.9 541.7,470.4 538.7,468.9"/>
<polyline class="bd" points="573.3,455.4 576.3,470.4 588.4,470.4 594.4,462.9"/>
<polyline class="bd" points="583.9,458.4 585.4,465.9"/>
<polyline class="bd" points="496.5,476.5 505.5,476.5 513.0,482.5 529.6,485.5 532.6,473.4"/>
<polyline class="bd" points="528.8,485.8 519.0,502.1 538.6,511.9 564.8,531.5 571.3,544.6 581.1,557.6 584.4,570.7 574.6,583.8 590.9,590.3"/>
<polyline class="bd" points="532.1,538.0 535.4,564.2 528.8,590.3 525.6,623.0 522.3,649.2 519.0,675.3"/>
<polyline class="bd" points="532.1,538.0 541.9,554.4 558.2,554.4 568.0,544.6"/>
<polyline class="bd" points="558.2,554.4 568.0,561.0 574.6,570.7 584.4,570.7"/>
<polyline class="bd" points="574.6,583.8 572.0,596.0"/>
<polyline class="bd" points="764.0,317.8 772.0,320.0 780.0,319.2"/>
<polyline class="bd" points="778.5,285.5 784.1,283.6 789.8,285.5"/>
<polyline class="bd" points="778.5,285.5 785.1,289.3 790.7,291.2"/>
<polyline class="bd" points="793.6,274.2 792.6,279.9 789.8,285.5 790.7,291.2 796.4,295.0 795.4,299.6 800.1,301.5 807.7,300.6 814.3,298.7 813.3,295.9"/>
<polyline class="bd" points="795.4,299.6 792.0,304.0 792.5,309.0 795.5,314.0"/>
<polyline class="bd" points="792.0,304.0 801.7,303.0 814.2,305.3 815.2,308.5"/>
<polyline class="bd" points="811.5,288.3 819.0,286.5 826.5,287.4 832.2,292.1 828.4,294.9 820.9,295.9 813.3,295.9 811.5,288.3"/>
<polyline class="bd" points="817.1,271.4 819.0,276.1 820.9,285.5"/>
<polyline class="bd" points="836.0,269.5 849.1,271.4 850.1,280.8 851.0,287.4 847.3,294.0 841.6,293.0 832.2,292.1"/>
<polyline class="bd" points="828.4,294.9 834.1,295.9 845.4,296.8 847.3,294.0"/>
<polyline class="bd" points="814.3,298.7 815.2,301.5 826.5,303.4 828.4,298.7 820.9,295.9"/>
<polyline class="bd" points="826.5,303.4 828.4,308.1 837.8,307.2 845.4,300.6 845.4,296.8"/>
<polyline class="bd" points="815.2,305.3 820.9,306.2 826.5,303.4"/>
<polyline class="bd" points="845.4,298.7 856.7,298.7 862.3,297.8 866.1,305.3 869.9,309.1 872.7,306.2"/>
<polyline class="bd" points="839.7,308.1 845.4,314.7 854.8,315.7 864.2,314.7 868.0,312.8"/>
<polyline class="bd" points="862.3,297.8 868.0,301.5 872.7,306.2"/>
<polyline class="bd" points="851.0,282.7 860.4,281.7 873.6,283.6 877.4,280.8 885.0,280.8"/>
<polyline class="bd" points="885.0,280.8 888.7,286.5 895.3,288.3 904.7,291.2 905.7,297.8 901.9,302.5 900.0,305.3"/>
<polyline class="bd" points="866.1,262.0 873.6,263.8 876.5,270.4 880.2,274.2 876.5,278.0 877.4,280.8"/>
<polyline class="bd" points="860.4,263.8 858.6,268.6 852.9,272.3 849.1,271.4"/>
<polyline class="bd" points="842.5,262.0 852.9,261.0 860.4,263.8 866.1,262.0"/>
<polyline class="bd" points="842.5,254.4 852.9,252.5 862.3,253.5"/>
<polyline class="bd" points="864.2,245.0 863.3,252.5 865.2,262.0"/>
<polyline class="bd" points="824.0,308.0 830.0,316.0 836.0,322.0 840.0,326.0 846.0,327.0 856.0,327.0"/>
<polyline class="bd" points="845.4,314.7 846.0,322.0 840.0,326.0"/>
<polyline class="bd" points="835.5,330.0 848.0,326.0"/>
<polyline class="bd" points="855.5,328.0 860.0,322.0 864.0,323.0"/>
<polyline class="bd" points="811.4,245.3 810.1,234.0 812.7,222.7 817.7,217.7 825.2,201.4 832.7,197.6 842.8,191.3 850.3,195.0 857.9,190.1 866.7,187.6 872.9,185.0"/>
<polyline class="bd" points="850.3,195.0 851.6,207.7 855.4,213.9"/>
<polyline class="bd" points="867.9,187.6 867.9,200.1 871.7,211.4 872.9,222.7 876.7,227.7 872.9,234.0 867.9,241.6"/>
<polyline class="bd" points="907.1,317.0 918.0,320.0 929.8,323.7"/>
<polyline class="bd" points="911.4,325.6 915.0,330.0 920.7,330.5 929.8,323.7"/>
<polyline class="bd" points="920.7,330.5 920.7,337.3 925.2,350.9 932.0,362.2 934.3,371.2"/>
<polyline class="bd" points="893.2,349.1 893.6,346.3 909.4,348.6 920.7,337.3"/>
<polyline class="bd" points="891.1,359.8 889.0,360.0 907.1,369.0 932.0,362.2"/>
<polyline class="bd" points="889.0,371.2 902.6,366.7"/>
<polyline class="bd" points="943.3,380.3 954.7,396.1 970.5,402.9"/>
<polyline class="bd" points="916.2,419.0 931.3,414.5 947.9,411.4 958.4,403.9 965.0,395.0"/>
<polyline class="bd" points="949.4,419.0 958.0,410.0"/>
<polyline class="bd" points="929.7,303.5 928.6,292.0 938.8,283.0 954.7,285.2 977.3,274.0 1002.2,266.0 1027.0,271.7 1043.0,285.2 1060.0,291.4 1084.1,286.9 1091.7,288.4 1102.2,290.7 1104.5,285.4 1107.5,280.9 1118.0,284.0 1119.5,288.4 1127.8,288.4 1139.1,293.0 1150.4,293.0 1160.2,289.2 1167.0,290.7"/>
<polyline class="bd" points="950.1,312.4 961.4,310.1 961.4,326.0 970.5,321.4 986.3,323.7 1002.2,330.5 1015.7,321.4 1033.8,319.2 1045.2,314.7"/>
<polyline class="bd" points="952.4,341.8 970.5,346.3 979.5,348.6 993.1,341.8 1006.7,337.3 1015.7,337.3 1022.6,335.4"/>
<polyline class="bd" points="961.4,326.0 975.0,335.0 993.1,341.8"/>
<polyline class="bd" points="1002.2,330.5 1010.0,333.0 1015.7,337.3"/>
<polyline class="bd" points="979.5,348.6 977.3,357.6 979.5,371.2 986.3,380.3 1006.7,373.5 1015.7,357.6 1018.0,339.5"/>
<polyline class="bd" points="986.3,380.3 984.1,387.0"/>
<polyline class="bd" points="1082.9,388.1 1090.0,400.0 1094.0,412.0"/>
<polyline class="bd" points="1103.0,378.1 1100.0,400.0 1108.0,418.0 1112.0,436.6"/>
<polyline class="bd" points="1118.1,395.7 1122.0,410.0 1130.0,425.0 1127.9,445.6"/>
<polyline class="bd" points="1125.6,405.7 1128.0,420.0"/>
<polyline class="bd" points="1109.8,452.4 1116.0,456.0"/>
<polyline class="bd" points="1063.0,378.0 1072.0,384.0 1075.4,390.7"/>
<polyline class="bd" points="1196.0,340.2 1205.1,339.2"/>
<polyline class="bd" points="763.7,351.4 765.3,361.2 755.5,367.8 740.8,374.3 739.2,379.2"/>
<polyline class="bd" points="724.5,379.2 739.2,379.2 739.2,385.7 729.4,387.3 726.1,402.0 713.0,402.0"/>
<polyline class="bd" points="739.2,382.4 749.0,389.0 749.0,423.3 729.4,424.9 714.7,420.0"/>
<polyline class="bd" points="749.0,389.0 781.6,410.2 807.8,395.5"/>
<polyline class="bd" points="798.0,344.9 801.2,361.2 802.9,385.7 807.8,395.5"/>
<polyline class="bd" points="807.8,395.5 820.8,397.1 851.8,406.9"/>
<polyline class="bd" points="854.3,364.5 854.3,406.9"/>
<polyline class="bd" points="781.6,410.2 783.3,423.3 770.2,426.5 760.4,431.4 752.2,441.2"/>
<polyline class="bd" points="820.8,397.1 822.4,413.5 815.9,429.8"/>
<polyline class="bd" points="771.8,428.2 784.9,434.7 798.0,431.4 815.9,429.8"/>
<polyline class="bd" points="850.2,408.6 846.9,431.4 853.5,446.1"/>
<polyline class="bd" points="819.2,441.2 833.9,451.0 846.9,442.9"/>
<polyline class="bd" points="815.9,429.8 819.2,441.2"/>
<polyline class="bd" points="817.6,434.7 811.0,446.1 798.0,455.9"/>
<polyline class="bd" points="780.0,434.7 778.4,454.3"/>
<polyline class="bd" points="771.8,438.0 773.5,454.3"/>
<polyline class="bd" points="760.4,439.6 760.4,459.2"/>
<polyline class="bd" points="740.8,441.2 742.4,460.8"/>
<polyline class="bd" points="729.4,424.9 729.4,434.7 739.2,434.7 740.8,441.2"/>
<polyline class="bd" points="711.4,421.6 729.4,424.9"/>
<polyline class="bd" points="752.2,441.2 760.4,439.6 770.2,434.7 771.8,438.0"/>
<polyline class="bd" points="739.2,434.7 752.2,431.4 760.4,431.4"/>
<polyline class="bd" points="716.0,432.0 724.0,431.0 729.4,434.7"/>
<polyline class="bd" points="722.0,441.0 732.0,440.0 740.8,441.2"/>
<polyline class="bd" points="854.9,400.6 889.0,400.6"/>
<polyline class="bd" points="833.9,460.7 856.6,458.5 874.7,465.2 872.4,478.8 867.9,487.9 872.4,501.4 867.9,510.5 865.6,517.3 852.0,515.0 845.2,506.0 827.1,499.2 813.6,496.9"/>
<polyline class="bd" points="827.1,465.2 820.4,483.3 813.6,494.7"/>
<polyline class="bd" points="824.9,496.9 845.2,506.0 849.8,515.0 845.2,521.8 845.2,535.4 809.0,535.4"/>
<polyline class="bd" points="840.7,537.6 840.7,567.1 831.7,569.3 827.1,578.4"/>
<polyline class="bd" points="840.7,537.6 856.6,539.9 867.9,553.5 854.3,567.1 840.7,567.1"/>
<polyline class="bd" points="845.2,521.8 867.9,521.8 874.7,528.6 858.8,539.9 845.2,535.4"/>
<polyline class="bd" points="858.8,539.9 874.7,530.9 883.7,544.4 876.9,553.5 867.9,553.5"/>
<polyline class="bd" points="883.7,515.0 906.3,515.0"/>
<polyline class="bd" points="883.7,515.0 888.2,544.4 876.9,555.7 879.2,564.8"/>
<polyline class="bd" points="854.3,567.1 876.9,553.5"/>
<polyline class="bd" points="872.4,478.8 886.0,481.1 906.3,492.4"/>
<polyline class="bd" points="867.9,506.0 883.7,515.0"/>
<polyline class="bd" points="874.7,465.2 886.0,460.7 906.3,463.0 910.9,474.3"/>
<polyline class="bd" points="886.0,449.4 904.1,460.7 931.2,449.4"/>
<polyline class="bd" points="886.0,449.4 890.5,429.0 913.1,424.5"/>
<polyline class="bd" points="854.3,442.6 867.9,438.1 886.0,442.6"/>
<polyline class="bd" points="854.3,442.6 886.0,449.4 874.7,465.2"/>
<polyline class="bd" points="856.6,458.5 854.3,442.6"/>
<polyline class="bd" points="820.4,449.4 833.9,460.7 854.3,442.6 845.2,429.0"/>
<polyline class="bd" points="802.3,453.9 820.4,449.4 827.1,465.2 813.6,469.8 800.0,469.8"/>
<polyline class="bd" points="813.6,469.8 811.3,487.9 820.4,483.3"/>
<polyline class="bd" points="876.9,506.0 886.0,510.5 888.2,533.1"/>
<polyline class="bd" points="852.9,406.7 848.8,434.8 852.9,442.9"/>
<polygon class="ld" points="1200.0,506.0 1206.0,505.0 1206.0,507.0 1200.0,508.0"/>
<polygon class="ld" points="1208.0,505.0 1216.0,504.0 1216.0,506.5 1208.0,507.0"/>
<polygon class="ld" points="1218.0,504.0 1228.0,503.0 1228.0,505.5 1218.0,506.0"/>
<polygon class="ld" points="1330.0,546.0 1333.0,547.0 1339.0,554.0 1336.0,554.0"/>
<polygon class="ld" points="1298.0,501.0 1304.0,503.0 1303.0,505.0"/>
<polygon class="ld" points="1310.0,506.0 1316.0,509.0 1315.0,511.0"/>
<polygon class="ld" points="1318.0,510.0 1323.0,513.0 1322.0,514.0"/>
<polygon class="ld" points="1374.0,535.0 1380.0,533.0 1383.0,536.0 1377.0,539.0"/>
<polygon class="ld" points="502.0,380.0 505.0,379.0 506.0,384.0 503.0,386.0"/>
<polygon class="ld" points="708.0,375.0 711.0,374.0 711.0,376.0"/>
<polygon class="ld" points="716.0,377.0 719.0,376.0 719.0,378.0"/>
<polygon class="ld" points="744.0,230.0 747.0,231.0 746.0,233.0"/>
<polygon class="ld" points="763.0,239.0 765.0,240.0 764.0,242.0"/>
<polygon class="ld" points="738.0,180.0 742.0,180.0 741.0,182.0"/>
<polygon class="ld" points="1276.0,303.0 1279.0,301.0 1279.0,303.0"/>
<polygon class="ld" points="1284.0,296.0 1287.0,294.0 1287.0,296.0"/>
<polygon class="ld" points="1292.0,290.0 1295.0,288.0 1295.0,290.0"/>
<polygon class="wt" points="1118.8,273.0 1122.0,271.9 1125.0,274.0 1128.0,273.5 1131.6,276.0 1129.0,279.4 1124.0,277.0 1120.0,276.0"/>
<polygon class="wt" points="972.0,313.0 977.0,311.0 979.0,317.0 974.0,319.0"/>
<polygon class="wt" points="875.0,478.0 881.0,477.0 882.0,483.0 876.0,484.0"/>
<circle cx="555" cy="414" r="0.9" fill="#555"/>
<circle cx="557" cy="418" r="0.9" fill="#555"/>
<circle cx="559" cy="422" r="0.9" fill="#555"/>
<circle cx="561" cy="426" r="0.9" fill="#555"/>
<circle cx="563" cy="430" r="0.9" fill="#555"/>
<circle cx="1336" cy="528" r="0.9" fill="#555"/>
<circle cx="1340" cy="534" r="0.9" fill="#555"/>
<circle cx="1344" cy="540" r="0.9" fill="#555"/>
<circle cx="1062" cy="438" r="0.9" fill="#555"/>
<circle cx="1064" cy="444" r="0.9" fill="#555"/>
<polygon class="cn" points="1022.6,335.4 1025.2,332.6 1027.4,329.5 1030.5,327.2 1033.0,324.4 1035.1,321.3 1037.8,318.6 1040.0,315.4 1042.7,312.8 1045.0,309.3 1047.6,305.9 1050.3,302.7 1054.1,301.0 1057.7,298.7 1061.8,297.5 1065.3,295.2 1068.6,296.8 1071.5,298.9 1074.6,300.9 1077.2,303.4 1080.4,305.2 1083.0,307.6 1085.5,310.2 1088.1,312.6 1090.4,315.4 1093.1,317.7 1095.5,320.3 1099.3,320.6 1103.0,321.5 1106.8,322.0 1110.6,322.4 1114.3,323.7 1118.0,324.2 1121.8,324.8 1125.6,325.3 1128.9,324.1 1131.9,322.1 1135.0,320.5 1138.2,319.0 1141.3,317.4 1144.6,316.1 1147.4,313.9 1150.8,312.8 1154.1,311.1 1157.5,309.5 1160.8,307.6 1164.0,305.6 1167.6,304.6 1170.9,302.7 1167.9,299.2 1165.8,295.2 1168.4,292.3 1170.6,289.1 1173.0,286.1 1175.6,283.3 1178.1,280.3 1180.9,277.6 1184.6,276.6 1188.5,276.5 1192.3,276.0 1196.0,275.1 1198.0,278.2 1199.6,281.4 1201.6,284.5 1203.5,287.6 1206.7,290.1 1209.6,292.9 1213.1,295.0 1216.1,297.7 1220.3,298.1 1224.4,297.9 1228.6,297.7 1226.6,300.8 1225.3,304.3 1223.3,307.4 1221.1,310.3 1219.5,313.6 1217.2,316.4 1214.7,319.1 1212.7,322.1 1211.0,325.3 1207.5,326.7 1204.5,329.0 1201.0,330.4 1196.4,332.5 1191.4,331.3 1186.3,330.5 1182.8,332.3 1179.5,334.2 1176.3,336.5 1172.3,338.5 1176.2,340.8 1180.5,342.2 1184.3,344.5 1181.5,347.8 1178.3,350.6 1179.0,355.7 1180.3,360.6 1181.4,364.1 1182.6,367.5 1184.3,370.7 1183.4,375.7 1182.3,380.7 1180.0,383.6 1178.6,387.1 1176.3,390.0 1173.0,391.2 1169.9,392.9 1167.1,395.1 1164.1,396.9 1160.8,398.2 1156.6,399.8 1152.3,401.4 1148.2,403.2 1144.0,402.5 1139.8,402.0 1135.7,400.7 1132.4,402.6 1128.8,403.7 1125.6,405.7 1122.8,402.6 1120.9,398.8 1118.1,395.7 1115.4,392.5 1112.9,389.1 1110.6,385.6 1107.8,383.4 1105.9,380.3 1103.0,378.1 1099.4,376.5 1095.5,375.6 1090.5,377.0 1085.4,378.1 1081.1,376.8 1077.1,374.6 1072.9,373.1 1069.5,371.2 1065.7,370.5 1062.4,368.4 1059.0,366.7 1055.3,365.5 1051.5,364.9 1047.8,364.2 1044.0,363.3 1040.2,363.0 1038.7,358.1 1037.7,353.0 1034.4,351.3 1031.5,349.1 1028.3,347.3 1025.1,345.4 1023.9,340.4"/>
<polygon class="in" points="1020.1,345.4 1024.0,346.3 1027.6,348.1 1031.5,348.9 1035.2,350.5 1036.7,354.7 1038.4,358.9 1040.2,363.0 1041.6,366.7 1042.7,370.5 1046.0,371.9 1049.4,373.1 1052.9,373.9 1056.1,375.6 1059.4,376.9 1062.8,378.1 1067.8,379.4 1072.9,380.6 1073.8,385.7 1075.4,390.7 1079.2,389.6 1082.9,388.1 1086.0,385.5 1089.0,382.9 1092.1,380.3 1095.5,378.1 1100.5,380.6 1097.7,383.4 1095.3,386.5 1092.9,389.6 1090.5,392.7 1087.9,395.7 1085.4,398.2 1082.9,400.7 1078.0,397.0 1072.9,398.2 1071.9,402.0 1070.4,405.7 1067.2,408.2 1064.3,411.0 1060.9,413.2 1057.8,415.8 1055.2,418.2 1052.6,420.7 1050.4,423.5 1047.7,425.8 1045.5,429.4 1042.8,432.6 1040.2,435.9 1038.8,440.9 1037.7,445.9 1034.3,444.2 1031.1,442.3 1027.6,440.9 1026.3,437.6 1025.0,434.2 1024.2,430.7 1022.3,427.6 1021.1,424.3 1020.1,420.8 1019.6,417.0 1019.0,413.2 1018.2,409.5 1017.6,405.7 1014.3,404.0 1010.8,402.4 1007.5,400.7 1006.4,396.9 1005.0,393.2 1006.7,393.8 1008.8,390.4 1010.6,386.7 1012.2,383.0 1013.9,379.3 1015.7,375.7 1017.9,372.3 1019.3,368.4 1021.3,364.9 1023.3,361.4 1024.8,357.6 1023.4,353.5 1021.6,349.5"/>
<polygon class="us" points="235.5,178.8 239.1,180.0 242.9,179.9 246.5,180.9 250.2,181.2 254.2,182.3 258.4,182.5 262.5,183.2 266.5,184.5 270.2,185.0 273.9,184.8 277.5,185.6 281.2,186.1 284.8,187.8 288.6,188.6 288.2,192.3 289.1,195.9 289.1,199.6 288.9,203.3 288.2,207.0 289.2,210.6 288.9,214.3 289.1,218.0 289.0,221.6 288.6,225.3 289.0,229.0 288.7,232.7 288.3,236.3 288.6,240.0 294.3,241.6 297.4,244.3 300.8,246.5 304.1,248.9 307.3,251.4 309.9,254.4 313.0,257.0 315.9,260.1 319.0,263.0 321.0,267.0 315.0,266.0 311.8,262.2 308.0,259.0 305.1,256.9 302.6,254.5 300.0,252.0 296.6,248.9 293.0,246.0 289.7,244.0 286.0,243.0 282.1,240.6 278.0,238.4 271.4,236.7 264.9,238.4 260.8,237.6 256.7,236.7 253.6,238.6 250.2,240.0 245.3,244.9 241.3,247.6 237.1,249.8 233.1,250.9 229.0,251.4 225.2,249.4 220.4,247.3 215.2,246.4 210.2,244.9 205.1,244.4 201.8,242.5 198.1,241.4 202.1,240.4 206.1,239.3 204.1,235.3 205.1,230.3 210.1,226.3 214.7,225.0 219.2,223.3 218.2,220.3 214.5,219.8 210.8,218.9 207.1,218.2 202.4,216.6 198.1,214.2 197.1,211.2 200.7,209.8 204.3,208.3 208.1,207.2 212.6,206.7 217.2,207.2 214.1,204.2 211.4,201.3 208.1,199.1 204.5,198.6 201.1,197.1 202.1,194.1 206.7,193.0 211.1,191.1 215.2,187.1 219.3,185.3 223.2,183.0 227.1,181.1 231.4,180.2"/>
<polygon class="us" points="347.0,294.4 350.6,295.0 354.2,294.8 357.8,294.5 361.4,293.7 365.0,293.8 368.7,294.2 372.3,294.3 375.8,293.1 379.5,293.2 383.1,294.2 386.7,293.0 390.3,293.7 393.9,293.2 397.5,293.5 401.1,293.7 404.7,293.3 408.3,292.9 411.9,292.8 415.5,293.1 419.2,293.0 422.8,292.6 426.4,292.6 430.0,292.7 433.6,292.2 437.2,292.0 440.8,292.5 444.4,292.3 446.4,293.3 450.2,293.6 453.8,295.1 457.5,296.2 461.2,297.1 465.0,297.5 469.3,298.2 473.4,299.5 477.5,300.6 481.3,304.2 485.8,306.8 487.4,310.2 488.0,314.0 490.0,317.2 487.9,323.4 491.2,321.6 494.9,321.0 498.2,319.2 502.1,316.6 506.5,315.1 510.7,314.0 515.0,312.8 519.0,311.0 522.1,309.0 525.3,307.0 528.6,305.3 531.4,302.7 537.6,304.7 538.0,309.0 539.7,313.0 535.8,316.5 531.4,319.2 529.3,325.5 525.9,327.5 522.8,330.2 519.0,331.7 516.0,334.9 512.7,337.9 511.1,342.3 508.6,346.2 508.0,350.5 506.5,354.5 502.2,357.5 498.2,360.7 495.5,364.2 492.0,366.9 490.0,371.0 492.4,375.0 494.0,379.4 495.8,383.3 496.2,387.6 492.0,389.7 491.0,386.1 488.9,383.0 487.9,379.4 483.7,375.2 480.0,375.3 476.5,374.0 472.9,373.3 469.2,373.1 465.1,372.9 460.9,373.0 456.8,373.1 452.7,373.8 448.5,374.2 444.4,375.2 442.5,378.8 439.8,381.9 438.1,385.6 431.9,383.5 429.3,380.5 426.7,377.6 423.6,375.2 419.7,372.6 415.3,371.0 411.4,368.5 407.0,366.9 402.9,365.8 398.8,364.8 394.7,364.3 390.5,363.5 386.4,363.2 382.2,362.8 377.8,362.0 374.1,359.4 369.7,358.6 365.4,356.9 361.4,354.5 357.3,352.4 355.9,349.0 354.0,345.7 353.2,342.0 350.2,337.8 347.0,333.8 346.6,329.6 346.4,325.4 345.6,321.3 344.9,317.2 345.2,313.0 346.0,308.9 347.1,304.8 347.0,300.6"/>
<polygon class="wt" points="464.0,296.0 470.0,294.5 476.0,296.0 480.0,299.0 474.0,300.5 467.0,299.5"/>
<polygon class="wt" points="489.0,308.0 494.0,306.5 498.0,309.5 497.0,316.0 493.0,315.0 491.0,311.0"/>
<polyline points="236,251 228,257 218,262.5 206,269" fill="none" stroke="#383838" stroke-width="4" stroke-linecap="round" stroke-linejoin="round"/><polyline points="203.5,272.5 193.5,277" fill="none" stroke="#383838" stroke-width="3.2" stroke-linecap="round"/>
<ellipse cx="246" cy="254" rx="4.5" ry="3.5" fill="#3a3f3a" transform="rotate(-30 246 254)"/>
<ellipse cx="1416.0" cy="224.5" rx="6.0" ry="2.5" fill="#333"/>
<ellipse cx="1408.5" cy="240.5" rx="3.5" ry="1.5" fill="#333"/>
<ellipse cx="1359.0" cy="277.5" rx="3.0" ry="1.5" fill="#333"/>
<ellipse cx="1392.0" cy="282.5" rx="4.0" ry="1.5" fill="#333"/>
<ellipse cx="1403.0" cy="280.5" rx="4.0" ry="1.5" fill="#333"/>
<ellipse cx="1421.5" cy="276.0" rx="1.5" ry="2.0" fill="#333"/>
<ellipse cx="1336.5" cy="267.0" rx="1.5" ry="1.0" fill="#333"/>
<ellipse cx="1300.0" cy="288.0" rx="2.0" ry="1.0" fill="#333"/>
<ellipse cx="240.0" cy="410.0" rx="3.0" ry="2.0" fill="#333"/>
<ellipse cx="233.0" cy="405.5" rx="2.0" ry="1.5" fill="#333"/>
<ellipse cx="227.5" cy="402.0" rx="1.5" ry="1.0" fill="#333"/>
<ellipse cx="222.0" cy="400.0" rx="1.0" ry="1.0" fill="#333"/>
<ellipse cx="1409.0" cy="240.5" rx="3.0" ry="1.5" fill="#333"/>
</svg>
<div id="tip"></div><div id="tiparrow"></div>
<div id="tiptext">Country : United States<br>Apdex Score : 1<br>Avg. Response Time (ms) : 930<br>Page Views : 2<br>Throughput(cpm) : 0<br>Error Count : 1</div>
<div id="bar"></div>
<div class="tick" style="left:570px"></div><div class="tick" style="left:729px"></div><div class="tick" style="left:888px"></div><div class="tick" style="left:1046px"></div>
<div class="lbl" style="left:392px">0</div>
<div class="lbl" style="left:551px">0.2</div>
<div class="lbl" style="left:709px">0.4</div>
<div class="lbl" style="left:868px">0.6</div>
<div class="lbl" style="left:1026px">0.8</div>
<div style="position:absolute;left:1204.6px;top:755px;width:1.5px;height:8.5px;background:#4a4a4a"></div>
<div class="handle" style="left:405.5px"></div>
<div class="handle" style="left:1198.5px"></div>
<div id="bline1"></div><div id="bline2"></div><div id="bband"></div>
</body></html>
